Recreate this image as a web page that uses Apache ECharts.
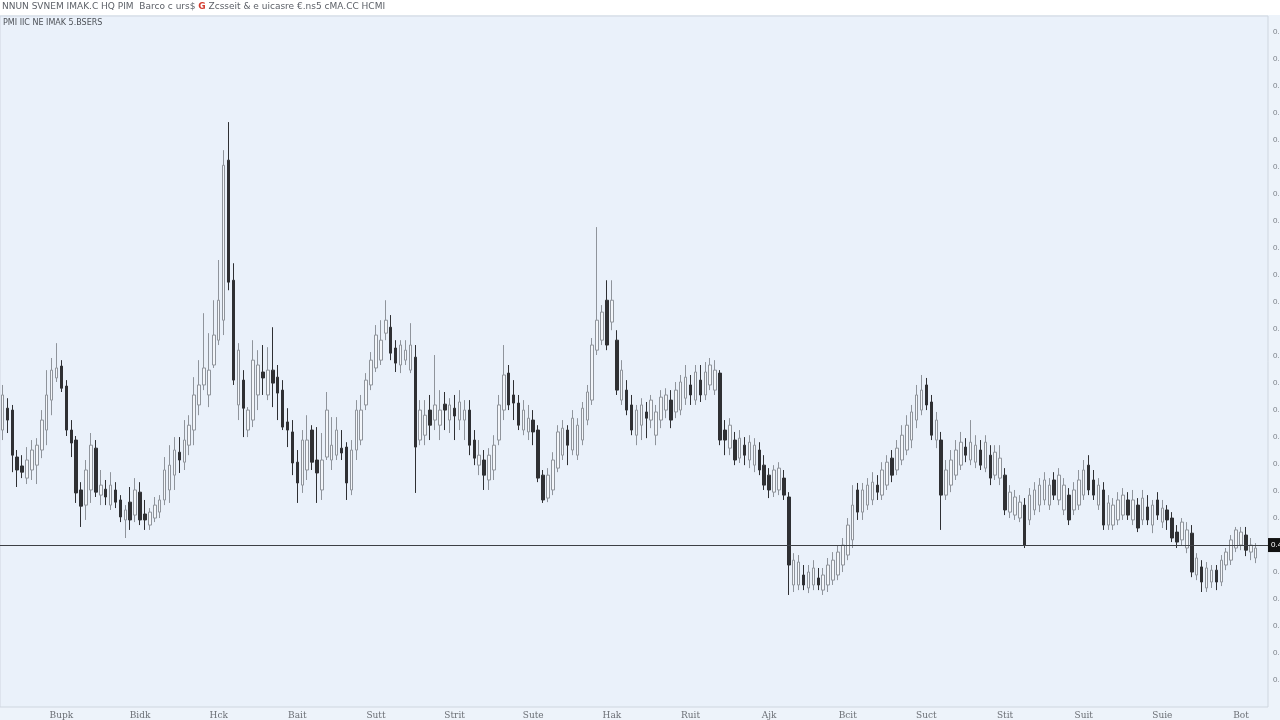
<!DOCTYPE html>
<html>
<head>
<meta charset="utf-8">
<script src="https://cdn.jsdelivr.net/npm/echarts@6/dist/echarts.min.js"></script>
<style>
html,body{margin:0;padding:0;background:#edf3fa;}
#chart{width:1280px;height:720px;}
</style>
</head>
<body>
<div id="chart"></div>
<script>
const headerText1 = "NNUN SVNEM IMAK.C HQ PIM  Barco c urs$ ";
const headerRed = "G";
const headerText2 = " Zcsseit & e uicasre \u20ac.ns5 cMA.CC HCMI";
const subTitle = "PMI IIC NE IMAK 5.BSERS";
const xTickLabels = ["Bupk","Bidk","Hck","Bait","Sutt","Strit","Sute","Hak","Ruit","Ajk","Bcit","Suct","Stit","Suit","Suie","Bot"];
const refLevel = 0.4485;

const opens = [
.4926,.5007,.5000,.4826,.4793,.4748,.4778,.4796,.4852,.4926,
.5037,.5119,.5163,.5089,.4926,.4889,.4704,.4648,.4704,.4859,
.4685,.4707,.4648,.4704,.4667,.4593,.4659,.4611,.4696,.4615,
.4574,.4600,.4622,.4667,.4704,.4759,.4844,.4807,.4870,.4926,
.5019,.5093,.5056,.5167,.5259,.5333,.5926,.5481,.5019,.5111,
.4926,.4963,.5056,.5141,.5056,.5148,.5122,.5074,.4956,.4919,
.4807,.4722,.4778,.4926,.4815,.4704,.4826,.4815,.4833,.4859,
.4863,.4704,.4852,.4889,.5019,.5093,.5156,.5185,.5285,.5307,
.5230,.5167,.5185,.5148,.5196,.4889,.4907,.5000,.4963,.4944,
.5022,.4963,.5007,.4963,.4963,.5000,.4889,.4796,.4815,.4741,
.4778,.4889,.5000,.5137,.5056,.5026,.4926,.4919,.4963,.4926,
.4759,.4674,.4704,.4785,.4833,.4926,.4852,.4833,.4889,.4963,
.5037,.5222,.5259,.5407,.5326,.5259,.5037,.5074,.5019,.4907,
.4944,.4993,.4963,.4907,.4963,.5000,.5037,.4993,.5000,.5044,
.5093,.5037,.5111,.5056,.5093,.5074,.5137,.4926,.4859,.4889,
.4822,.4870,.4815,.4796,.4852,.4796,.4759,.4696,.4704,.4748,
.4678,.4352,.4352,.4389,.4341,.4352,.4378,.4333,.4352,.4370,
.4389,.4426,.4463,.4519,.4704,.4622,.4648,.4667,.4722,.4685,
.4722,.4822,.4778,.4815,.4852,.4889,.4963,.5000,.5093,.5030,
.4889,.4889,.4685,.4722,.4759,.4796,.4863,.4815,.4807,.4852,
.4785,.4833,.4759,.4748,.4759,.4622,.4611,.4600,.4648,.4593,
.4630,.4648,.4667,.4648,.4741,.4667,.4630,.4685,.4630,.4648,
.4685,.4796,.4741,.4648,.4704,.4574,.4574,.4593,.4611,.4667,
.4593,.4648,.4593,.4641,.4574,.4667,.4585,.4630,.4600,.4548,
.4519,.4489,.4544,.4389,.4419,.4341,.4363,.4407,.4363,.4426,
.4444,.4489,.4500,.4537,.4474,.4452
];
const closes = [
.5056,.4963,.4833,.4778,.4770,.4815,.4852,.4870,.4963,.5056,
.5148,.5156,.5081,.4926,.4878,.4693,.4644,.4778,.4870,.4696,
.4722,.4678,.4722,.4659,.4604,.4630,.4593,.4704,.4593,.4593,
.4622,.4648,.4667,.4778,.4796,.4852,.4815,.4889,.4944,.5056,
.5093,.5156,.5148,.5278,.5407,.5907,.5474,.5111,.5222,.5007,
.5000,.5185,.5167,.5119,.5148,.5100,.5063,.4937,.4926,.4804,
.4730,.4889,.4889,.4807,.4767,.4815,.5000,.4870,.4926,.4841,
.4730,.4852,.5000,.5000,.5111,.5185,.5278,.5259,.5333,.5211,
.5174,.5241,.5222,.5241,.4863,.5000,.4981,.4944,.5019,.5000,
.5000,.5019,.4978,.5030,.5000,.4870,.4822,.4833,.4759,.4833,
.4870,.5019,.5130,.5019,.5026,.4944,.5000,.4970,.4919,.4748,
.4667,.4759,.4815,.4919,.4933,.4870,.4970,.4944,.5007,.5067,
.5241,.5333,.5363,.5241,.5407,.5074,.5148,.5000,.4926,.5000,
.5019,.4970,.5037,.4993,.5048,.5056,.4963,.5074,.5104,.5122,
.5056,.5141,.5056,.5141,.5167,.5148,.4889,.4889,.4944,.4815,
.4896,.4833,.4881,.4870,.4778,.4722,.4704,.4778,.4785,.4685,
.4426,.4444,.4437,.4352,.4400,.4415,.4352,.4389,.4426,.4444,
.4474,.4500,.4574,.4648,.4622,.4704,.4722,.4733,.4696,.4778,
.4807,.4759,.4859,.4907,.4944,.4993,.5056,.5074,.5019,.4907,
.4963,.4685,.4778,.4815,.4852,.4881,.4833,.4881,.4870,.4796,
.4881,.4748,.4844,.4822,.4630,.4696,.4678,.4659,.4500,.4685,
.4704,.4722,.4741,.4722,.4685,.4759,.4722,.4593,.4704,.4741,
.4778,.4704,.4685,.4722,.4574,.4656,.4648,.4667,.4685,.4611,
.4667,.4563,.4674,.4593,.4648,.4611,.4637,.4593,.4526,.4511,
.4585,.4556,.4400,.4452,.4363,.4415,.4407,.4363,.4444,.4474,
.4519,.4556,.4548,.4481,.4500,.4489
];
const lows = [
.4889,.4915,.4770,.4715,.4748,.4726,.4741,.4726,.4822,.4870,
.4981,.5104,.5067,.4904,.4826,.4656,.4567,.4593,.4656,.4678,
.4648,.4648,.4630,.4637,.4585,.4526,.4556,.4585,.4574,.4556,
.4556,.4585,.4600,.4648,.4656,.4704,.4767,.4778,.4833,.4870,
.4981,.5074,.5011,.5156,.5241,.5278,.5444,.5093,.4963,.4900,
.4900,.4937,.5000,.5056,.5037,.5011,.4963,.4926,.4863,.4759,
.4656,.4693,.4741,.4778,.4656,.4667,.4815,.4778,.4815,.4815,
.4667,.4685,.4815,.4870,.5000,.5074,.5141,.5167,.5259,.5185,
.5141,.5137,.5167,.5137,.4693,.4870,.4870,.4889,.4926,.4889,
.4926,.4915,.4889,.4926,.4889,.4833,.4796,.4759,.4704,.4704,
.4741,.4870,.4963,.5000,.4963,.4926,.4907,.4889,.4870,.4733,
.4656,.4659,.4685,.4770,.4815,.4796,.4833,.4815,.4870,.4944,
.5019,.5204,.5241,.5222,.5296,.5056,.5019,.4981,.4907,.4870,
.4889,.4896,.4933,.4870,.4933,.4970,.4933,.4970,.4981,.5019,
.5019,.5019,.5030,.5037,.5074,.5056,.4870,.4833,.4833,.4796,
.4804,.4796,.4785,.4770,.4759,.4704,.4674,.4678,.4685,.4667,
.4315,.4326,.4333,.4333,.4322,.4333,.4333,.4315,.4326,.4352,
.4370,.4400,.4444,.4489,.4593,.4593,.4630,.4648,.4667,.4667,
.4704,.4733,.4759,.4796,.4833,.4859,.4933,.4981,.5000,.4889,
.4859,.4556,.4667,.4696,.4741,.4778,.4807,.4796,.4785,.4778,
.4770,.4722,.4741,.4722,.4611,.4600,.4593,.4585,.4489,.4574,
.4611,.4622,.4648,.4630,.4667,.4648,.4611,.4574,.4611,.4630,
.4667,.4685,.4667,.4630,.4556,.4556,.4556,.4574,.4593,.4593,
.4574,.4548,.4574,.4574,.4544,.4593,.4563,.4556,.4511,.4489,
.4500,.4470,.4381,.4370,.4326,.4326,.4341,.4333,.4348,.4407,
.4426,.4474,.4481,.4459,.4444,.4433
];
const highs = [
.5093,.5044,.5019,.4852,.4833,.4863,.4889,.4896,.5000,.5148,
.5193,.5248,.5185,.5111,.4963,.4904,.4733,.4815,.4915,.4889,
.4778,.4741,.4770,.4733,.4685,.4648,.4715,.4748,.4733,.4667,
.4637,.4678,.4685,.4826,.4870,.4900,.4900,.4963,.4981,.5122,
.5185,.5359,.5285,.5407,.5556,.5963,.6067,.5544,.5248,.5148,
.5011,.5259,.5222,.5241,.5233,.5307,.5167,.5111,.5007,.4963,
.4852,.4926,.4981,.4944,.4937,.4915,.5067,.4974,.4974,.4926,
.4881,.4889,.5037,.5056,.5137,.5215,.5315,.5333,.5407,.5352,
.5259,.5259,.5259,.5322,.5241,.5037,.5037,.5056,.5204,.5074,
.5067,.5044,.5056,.5074,.5037,.5037,.4926,.4889,.4852,.4859,
.4907,.5056,.5241,.5167,.5111,.5056,.5037,.5019,.5000,.4944,
.4778,.4785,.4844,.4944,.4963,.4944,.5000,.4970,.5030,.5093,
.5267,.5678,.5389,.5481,.5481,.5296,.5185,.5111,.5056,.5019,
.5044,.5030,.5056,.5019,.5074,.5081,.5074,.5104,.5130,.5167,
.5130,.5167,.5167,.5178,.5193,.5185,.5148,.4963,.4970,.4919,
.4926,.4900,.4907,.4896,.4881,.4833,.4785,.4796,.4807,.4778,
.4696,.4470,.4463,.4426,.4426,.4444,.4415,.4415,.4452,.4474,
.4500,.4526,.4600,.4722,.4730,.4730,.4748,.4770,.4759,.4807,
.4833,.4852,.4889,.4944,.4981,.5019,.5093,.5130,.5119,.5056,
.4993,.4919,.4815,.4852,.4889,.4919,.4896,.4963,.4907,.4889,
.4907,.4870,.4870,.4870,.4785,.4722,.4704,.4685,.4674,.4711,
.4733,.4748,.4770,.4748,.4770,.4785,.4748,.4711,.4733,.4778,
.4815,.4833,.4778,.4748,.4733,.4685,.4674,.4696,.4711,.4696,
.4704,.4674,.4704,.4685,.4667,.4696,.4667,.4648,.4622,.4574,
.4600,.4585,.4574,.4470,.4444,.4437,.4426,.4426,.4463,.4489,
.4537,.4567,.4567,.4567,.4526,.4507
];

const trailingBlank = 2;
const total = opens.length + trailingBlank;
const categories = [];
for (let i = 0; i < total; i++) categories.push('b' + i);
const ohlc = opens.map((o, i) => [o, closes[i], lows[i], highs[i]]);
for (let i = 0; i < trailingBlank; i++) ohlc.push('-');

const firstTick = 12, tickStep = 16;

const chart = echarts.init(document.getElementById('chart'), null, {renderer: 'canvas'});
chart.setOption({
  animation: false,
  backgroundColor: '#edf3fa',
  grid: {
    left: 0, right: 12, top: 16, bottom: 13,
    outerBoundsMode: 'none',
    containLabel: false,
    show: true, backgroundColor: '#eaf1fa', borderColor: '#cfd6df', borderWidth: 1
  },
  xAxis: {
    type: 'category',
    data: categories,
    boundaryGap: true,
    axisLine: {show: false},
    axisTick: {show: false},
    splitLine: {show: false},
    axisLabel: {
      interval: function (idx) { return idx >= firstTick && (idx - firstTick) % tickStep === 0; },
      formatter: function (val, idx) {
        const k = (idx - firstTick) / tickStep;
        return xTickLabels[k] || '';
      },
      color: '#6b6f75', fontSize: 9, fontFamily: 'DejaVu Serif', margin: 4
    }
  },
  yAxis: {
    type: 'value',
    position: 'right',
    min: 0.39, max: 0.646, interval: 0.01,
    axisLine: {show: false},
    axisTick: {show: false},
    splitLine: {show: false},
    axisLabel: {
      showMinLabel: false, showMaxLabel: false,
      formatter: function (v) { return v.toFixed(2); },
      color: '#7a7f86', fontSize: 8, margin: 5
    }
  },
  graphic: [
    {type: 'rect', left: 0, top: 0, shape: {width: 1280, height: 15}, style: {fill: '#ffffff'}, silent: true},
    {type: 'text', left: 2, top: 2, style: {
      text: '{a|' + headerText1 + '}{r|' + headerRed + '}{a|' + headerText2 + '}',
      rich: {a: {fill: '#5d6168', fontSize: 9, fontFamily: 'DejaVu Sans'},
             r: {fill: '#d23a2e', fontSize: 9, fontWeight: 'bold', fontFamily: 'DejaVu Sans'}}
    }},
    {type: 'text', left: 3, top: 19, style: {text: subTitle, fill: '#4d5157', fontSize: 8, fontFamily: 'DejaVu Sans'}}
  ],
  series: [{
    type: 'candlestick',
    data: ohlc,
    barWidth: 3,
    itemStyle: {
      color: '#f3f6fa', borderColor: '#8f949b',
      color0: '#2f3033', borderColor0: '#2f3033', borderWidth: 1
    },
    markLine: {
      symbol: 'none',
      silent: true,
      data: [{yAxis: refLevel}],
      lineStyle: {color: '#3d4045', width: 1, type: 'solid'},
      label: {
        position: 'end', formatter: function () { return refLevel.toFixed(4); },
        color: '#ffffff', backgroundColor: '#111111', fontSize: 8, padding: [3, 3], distance: 0
      }
    }
  }]
});
</script>
</body>
</html>
